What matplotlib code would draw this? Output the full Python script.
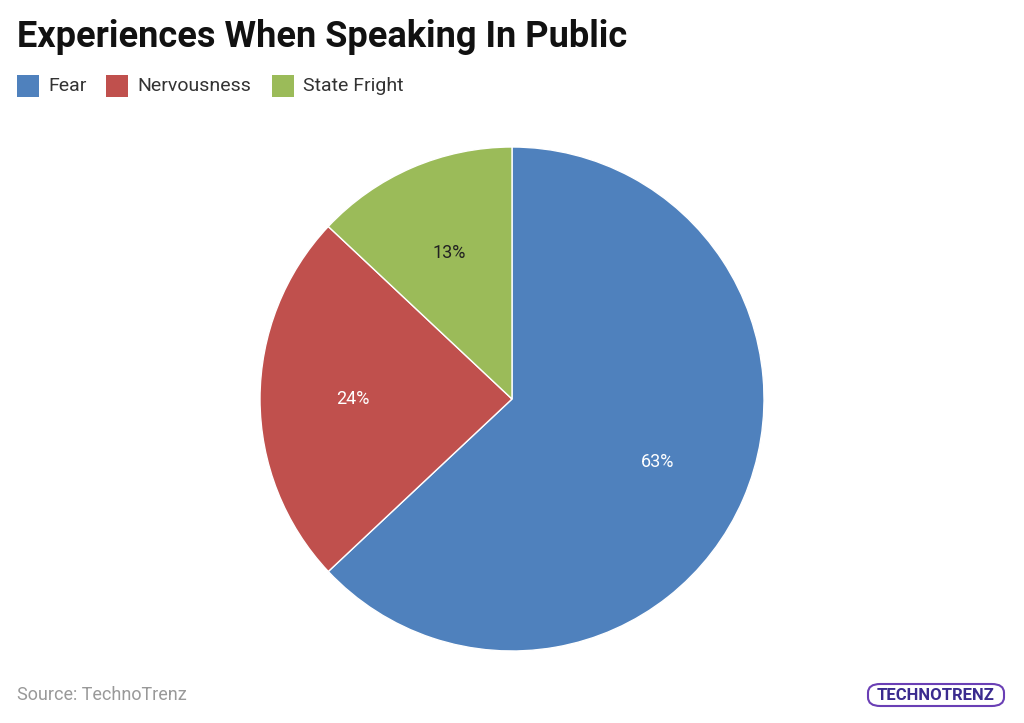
import matplotlib
matplotlib.use("Agg")
import matplotlib.pyplot as plt
from matplotlib.patches import Rectangle, FancyBboxPatch

labels = ["Fear", "Nervousness", "State Fright"]
values = [63, 24, 13]
colors = ["#4F81BD", "#C0504D", "#9BBB59"]

plt.rcParams['font.family'] = ['Roboto', 'DejaVu Sans']
fig = plt.figure(figsize=(10.24, 7.23), dpi=100)
W, H = 1024, 723
ax = fig.add_axes([(512-252)/W, (324-252)/H, 504/W, 504/H])
wedges, texts, autotexts = ax.pie(values, colors=colors, startangle=90, counterclock=False,
       autopct='%d%%', pctdistance=0.63,
       wedgeprops=dict(edgecolor='white', linewidth=1))
for i, t in enumerate(autotexts):
    t.set_fontsize(13)
    t.set_color('white' if i < 2 else '#222222')
ax.set_xlim(-1, 1)
ax.set_ylim(-1, 1)
ax.set_aspect('equal')

fig.text(17/W, 1-37/H, "Experiences When Speaking In Public", fontsize=26, fontweight='bold',
         va='center', ha='left', color='#111111')
xs = [17, 106, 272]
for x, lab, c in zip(xs, labels, colors):
    fig.patches.append(Rectangle((x/W, 1-97/H), 22/W, 22/H, transform=fig.transFigure,
                                 facecolor=c, edgecolor='none'))
    fig.text((x+31)/W, 1-86/H, lab, fontsize=14, va='center', ha='left', color='#333333')
fig.text(17/W, 1-695/H, "Source: TechnoTrenz", fontsize=13, color='#999999', va='center')
fig.patches.append(FancyBboxPatch((868/W, 1-706/H), 136/W, 22/H, transform=fig.transFigure,
                   boxstyle="round,pad=0,rounding_size=0.012", facecolor='white',
                   edgecolor='#6a3fb5', linewidth=1.5))
fig.text(936/W, 1-695/H, "TECHNOTRENZ", fontsize=12, fontweight='bold', color='#3b2b8f',
         ha='center', va='center')
fig.savefig("out.png", dpi=100, facecolor='white')
